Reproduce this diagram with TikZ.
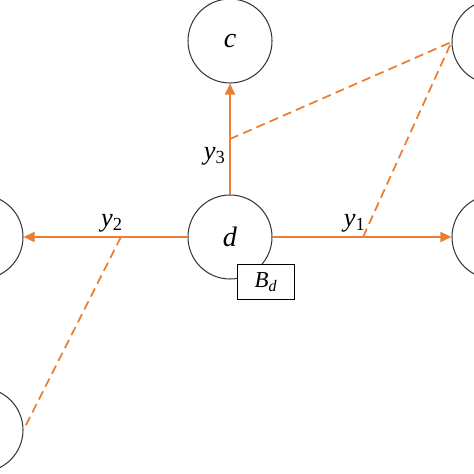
\documentclass[tikz,border=0pt]{standalone}
\usepackage{fontspec}
\setmainfont{Liberation Serif}
\usetikzlibrary{arrows.meta}
\definecolor{linkorange}{RGB}{237,125,49}
\definecolor{ringgray}{RGB}{55,55,55}
\begin{document}
\begin{tikzpicture}[node distance=3.92cm, auto,
        peer/.style={draw=ringgray, circle, minimum size=1.68cm, inner sep=0pt, line width=0.6pt, font=\fontsize{16}{18}\selectfont\itshape},
        link/.style={-{Triangle[length=0.22cm, width=0.2cm]}, draw=linkorange, line width=1pt},
        hint/.style={draw=linkorange, line width=1pt, dash pattern=on 5.2pt off 3pt},
        flowlbl/.style={font=\fontsize{15}{17}\selectfont\itshape, inner sep=2pt}]
        \clip (0,0) rectangle (9.48,9.48);
        \node [peer] (d) at (4.6,4.74) {d};
        \node [peer, above of=d] (c) {c};
        \node [peer, right of=d, node distance=5.28cm] (r2) {};
        \node [peer, above of=r2, node distance=3.9cm] (r1) {};
        \node [peer, left of=d, node distance=4.98cm] (l1) {};
        \node [peer, below of=l1, node distance=3.86cm] (l2) {};
        \node [draw, fill=white, rectangle, line width=0.6pt, minimum width=1.14cm, minimum height=0.7cm, font=\fontsize{13}{15}\selectfont\itshape] (bd) at ([xshift=0.72cm, yshift=-0.9cm]d.center) {B\textsubscript{d}};
        
        \draw[link] (d) -- node[flowlbl, above, pos=0.46] {y\textsubscript{\upshape 1}} coordinate[pos=0.506] (p1) (r2);
        \draw[link] (d) -- node[flowlbl, above, pos=0.46] {y\textsubscript{\upshape 2}} coordinate[pos=0.406] (p2) (l1);
        \draw[link] (d) -- node[flowlbl, left, pos=0.34] {y\textsubscript{\upshape 3}} coordinate[pos=0.5] (p3) (c);
        \draw[hint] (p1) -- (r1.west);
        \draw[hint] (p3) -- (r1.west);
        \draw[hint] (p2) -- (l2.east);
    \end{tikzpicture}
\end{document}
